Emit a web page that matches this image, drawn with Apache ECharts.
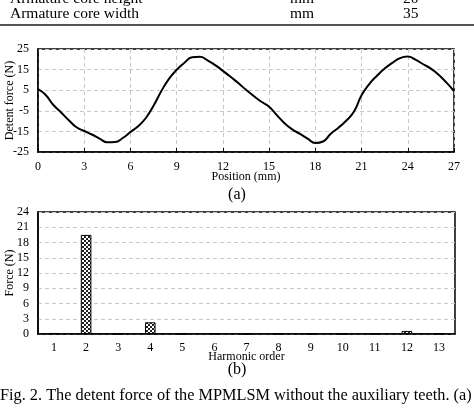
<!DOCTYPE html>
<html>
<head>
<meta charset="utf-8">
<script src="https://cdn.jsdelivr.net/npm/echarts@6/dist/echarts.min.js"></script>
<style>
  html, body { margin: 0; padding: 0; background: #fff; }
  #main { width: 474px; height: 409px; }
</style>
</head>
<body>
<div id="main"></div>
<script>
// (a) detent force vs position
var positions = [0, 0.5, 1, 1.5, 2, 2.5, 3, 3.5, 4, 4.5, 5, 5.5, 6, 6.5, 7, 7.5, 8, 8.5, 9, 9.5,
    10, 10.5, 11, 11.5, 12, 12.5, 13, 13.5, 14, 14.5, 15, 15.5, 16, 16.5, 17, 17.5, 18, 18.5, 19, 19.5,
    20, 20.5, 21, 21.5, 22, 22.5, 23, 23.5, 24, 24.5, 25, 25.5, 26, 26.5, 27];
var detentForce = [5.5, 2.7, -2.2, -5.8, -9.6, -13, -14.8, -16.5, -18.5, -20.3, -20.2, -18.2, -15.3, -12.5, -8.5, -2.5,
    4.5, 10.5, 14.9, 18.3, 21, 21.2, 19.5, 17.2, 14.4, 11.5, 8.5, 5.2, 2.2, -0.6, -3, -7.1, -11, -14, -16.2, -18.5,
    -20.6, -19.9, -16.1, -13.2, -9.8, -5.5, 2.5, 8, 12, 15.5, 18.3, 20.6, 21.3, 19.8, 17.6, 15.5, 12.5, 8.8, 4.6];

// (b) harmonic spectrum
var harmonicOrders = ['1', '2', '3', '4', '5', '6', '7', '8', '9', '10', '11', '12', '13'];
var harmonicForce = [0.2, 19.5, 0.05, 2.3, 0.05, 0.1, 0.05, 0.05, 0.05, 0.05, 0.05, 0.6, 0.05];

var serif = '"Liberation Serif", "DejaVu Serif", serif';

// checkered fill like the printed bars
var patCanvas = document.createElement('canvas');
patCanvas.width = 4;
patCanvas.height = 4;
var pctx = patCanvas.getContext('2d');
pctx.fillStyle = '#ffffff';
pctx.fillRect(0, 0, 4, 4);
pctx.fillStyle = '#222222';
pctx.fillRect(0, 0, 2, 2);
pctx.fillRect(2, 2, 2, 2);

var chart = echarts.init(document.getElementById('main'));

var axisText = { color: '#000', fontFamily: serif, fontSize: 12 };
var dashedGrid = { show: true, lineStyle: { color: '#c8c8c8', type: [4, 3], width: 1 } };

var option = {
    backgroundColor: '#fff',
    animation: false,
    grid: [
        { left: 38, top: 49, right: 20, height: 103, outerBoundsMode: 'none', containLabel: false,
          show: true, borderColor: '#000', borderWidth: 1.5, backgroundColor: 'transparent' },
        { left: 38, top: 212, right: 19, height: 122, outerBoundsMode: 'none', containLabel: false,
          show: true, borderColor: '#000', borderWidth: 1.5, backgroundColor: 'transparent' }
    ],
    xAxis: [
        {
            type: 'value', gridIndex: 0, min: 0, max: 27, interval: 3,
            name: 'Position (mm)', nameLocation: 'middle', nameGap: 19, nameMoveOverlap: false,
            nameTextStyle: axisText,
            axisLine: { onZero: false, lineStyle: { color: '#000', width: 1.5 } },
            axisTick: { inside: true, length: 4, lineStyle: { color: '#000' } },
            axisLabel: Object.assign({ margin: 9 }, axisText),
            splitLine: dashedGrid
        },
        {
            type: 'category', gridIndex: 1, data: harmonicOrders,
            name: 'Harmonic order', nameLocation: 'middle', nameGap: 17, nameMoveOverlap: false,
            nameTextStyle: axisText,
            axisLine: { onZero: false, lineStyle: { color: '#000', width: 1.5 } },
            axisTick: { inside: true, length: 4, alignWithLabel: false, lineStyle: { color: '#000' } },
            axisLabel: Object.assign({ margin: 8 }, axisText),
            splitLine: { show: false }
        }
    ],
    yAxis: [
        {
            type: 'value', gridIndex: 0, min: -25, max: 25, interval: 10,
            name: 'Detent force (N)', nameLocation: 'middle', nameGap: 22, nameMoveOverlap: false,
            nameTextStyle: axisText,
            axisLine: { show: true, lineStyle: { color: '#000', width: 1.5 } },
            axisTick: { show: false },
            axisLabel: Object.assign({ margin: 9 }, axisText),
            splitLine: dashedGrid
        },
        {
            type: 'value', gridIndex: 1, min: 0, max: 24, interval: 3,
            name: 'Force (N)', nameLocation: 'middle', nameGap: 22, nameMoveOverlap: false,
            nameTextStyle: axisText,
            axisLine: { show: true, lineStyle: { color: '#000', width: 1.5 } },
            axisTick: { show: false },
            axisLabel: Object.assign({ margin: 9 }, axisText),
            splitLine: dashedGrid
        }
    ],
    series: [
        {
            type: 'line', xAxisIndex: 0, yAxisIndex: 0,
            data: positions.map(function (p, i) { return [p, detentForce[i]]; }),
            smooth: true, symbol: 'none',
            lineStyle: { color: '#000', width: 2 }
        },
        {
            type: 'bar', xAxisIndex: 1, yAxisIndex: 1,
            data: harmonicForce, barWidth: '33%',
            itemStyle: {
                color: { image: patCanvas, repeat: 'repeat' },
                borderColor: '#000', borderWidth: 1
            }
        }
    ],
    graphic: [
        { type: 'text', left: 10, top: -9, style: { text: 'Armature core height', font: '15.5px ' + serif, fill: '#000' } },
        { type: 'text', left: 290, top: -9, style: { text: 'mm', font: '15.5px ' + serif, fill: '#000' } },
        { type: 'text', left: 403, top: -9, style: { text: '20', font: '15.5px ' + serif, fill: '#000' } },
        { type: 'text', left: 10, top: 6, style: { text: 'Armature core width', font: '15.5px ' + serif, fill: '#000' } },
        { type: 'text', left: 290, top: 6, style: { text: 'mm', font: '15.5px ' + serif, fill: '#000' } },
        { type: 'text', left: 403, top: 6, style: { text: '35', font: '15.5px ' + serif, fill: '#000' } },
        { type: 'rect', shape: { x: 0, y: 24, width: 474, height: 2 }, style: { fill: '#555' } },
        { type: 'text', left: 'center', top: 187, style: { text: '(a)', font: '16px ' + serif, fill: '#000' } },
        { type: 'text', left: 'center', top: 362, style: { text: '(b)', font: '16px ' + serif, fill: '#000' } },
        { type: 'text', left: 0, top: 388, style: { text: 'Fig. 2. The detent force of the MPMLSM without the auxiliary teeth. (a)', font: '16.3px ' + serif, fill: '#000' } }
    ]
};

chart.setOption(option);
</script>
</body>
</html>
